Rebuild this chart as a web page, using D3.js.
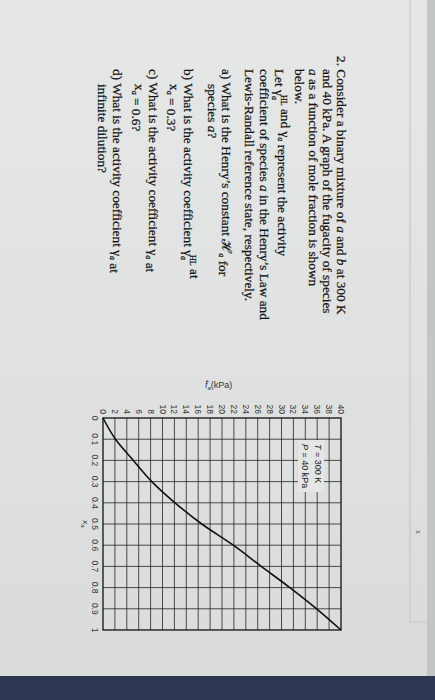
<!DOCTYPE html>
<html><head><meta charset="utf-8">
<script src="https://cdn.jsdelivr.net/npm/d3@7"></script>
<style>html,body{margin:0;padding:0;background:#e3e5e5;}svg{display:block;}</style>
</head><body>
<svg id="c" width="435" height="700"></svg>
<script>
// data
const moleFraction = [0, 0.1, 0.2, 0.3, 0.4, 0.5, 0.6, 0.7, 0.8, 0.9, 1.0];
const fugacity =     [0, 2.1, 5.1, 8.2, 12.1, 16.6, 21.9, 26.6, 31.4, 35.9, 40];
const fTicks = d3.range(0, 41, 2);
const xTicks = [0, 0.1, 0.2, 0.3, 0.4, 0.5, 0.6, 0.7, 0.8, 0.9, 1];
const xTickLabels = ["0","0.1","0.2","0.3","0.4","0.5","0.6","0.7","0.8","0.9","1"];
const questionLines = [
  ["2.  Consider a binary mixture of ", {i:"a"}, " and ", {i:"b"}, " at 300 K"],
  ["and 40 kPa. A graph of the fugacity of species"],
  [{i:"a"}, " as a function of mole fraction is shown"],
  ["below."],
  ["Let γ", {sub:"a"}, {sup:"HL"}, " and γ", {sub:"a"}, " represent the activity"],
  ["coefficient of species ", {i:"a"}, " in the Henry’s Law and"],
  ["Lewis-Randall reference state, respectively."],
  ["a)  What is the Henry’s constant ℋ", {sub:"a"}, " for"],
  ["species ", {i:"a"}, "?"],
  ["b)  What is the activity coefficient γ", {sub:"a"}, {sup:"HL"}, " at"],
  ["x", {sub:"a"}, " = 0.3?"],
  ["c)  What is the activity coefficient γ", {sub:"a"}, " at"],
  ["x", {sub:"a"}, " = 0.6?"],
  ["d)  What is the activity coefficient γ", {sub:"a"}, " at"],
  ["infinite dilution?"]
];
const lineX =     [341, 327, 313, 299, 279, 264, 249, 226, 212, 188, 174, 153, 139, 117, 102];
const lineStart = [ 56,  69,  69,  69,  69,  69,  69,  69,  84,  69,  84,  69,  84,  69,  84];

const svg = d3.select("#c");
// paper
const grad = svg.append("defs").append("linearGradient").attr("id","pg").attr("x1",0).attr("y1",0).attr("x2",0).attr("y2",1);
grad.append("stop").attr("offset","0").attr("stop-color","#e6e8e8");
grad.append("stop").attr("offset","1").attr("stop-color","#dadcdc");
svg.append("rect").attr("x",0).attr("y",0).attr("width",435).attr("height",700).attr("fill","#2f3652");
svg.append("rect").attr("x",0).attr("y",0).attr("width",427).attr("height",676).attr("fill","url(#pg)");
svg.append("rect").attr("x",427).attr("y",0).attr("width",8).attr("height",676).attr("fill","#c3c6c7");
svg.append("path").attr("d","M410,0 V622 H427").attr("fill","none").attr("stroke","#c6c9c9").attr("stroke-width",1.2);
svg.append("text").attr("x",416).attr("y",530).attr("font-family","Liberation Serif").attr("font-size",8).attr("fill","#555")
  .attr("transform","rotate(90,416,530)").text("x");

// question text (page is rotated 90° clockwise)
questionLines.forEach((parts, i) => {
  const x = lineX[i] - 4, y = lineStart[i];
  const t = svg.append("text").attr("x", x).attr("y", y)
    .attr("transform", `rotate(90,${x},${y})`)
    .attr("font-family", "Liberation Serif").attr("font-size", 13.3).attr("fill", "#151515")
    .attr("stroke", "#151515").attr("stroke-width", 0.25);
  parts.forEach(p => {
    if (typeof p === "string") t.append("tspan").text(p);
    else if (p.i) t.append("tspan").attr("font-style","italic").text(p.i);
    else if (p.sub) { t.append("tspan").attr("font-size",8).attr("font-style","italic").attr("dy",3).text(p.sub);
                      t.append("tspan").attr("dy",-3).text(""); }
    else if (p.sup) { t.append("tspan").attr("font-size",8).attr("dy",-9).attr("dx",-5).text(p.sup);
                      t.append("tspan").attr("dy",9).text(""); }
  });
});

// chart: fugacity runs left→right, mole fraction runs top→bottom
const fScale = d3.scaleLinear().domain([0, 40]).range([103, 341]);
const xScale = d3.scaleLinear().domain([0, 1]).range([418, 630]);
const g = svg.append("g");
g.append("rect").attr("x", fScale(0)).attr("y", xScale(0))
  .attr("width", fScale(40) - fScale(0)).attr("height", xScale(1) - xScale(0))
  .attr("fill", "none").attr("stroke", "#111").attr("stroke-width", 1.3);
g.selectAll(".vg").data(fTicks.slice(1, -1)).join("line")
  .attr("x1", d => fScale(d)).attr("x2", d => fScale(d))
  .attr("y1", xScale(0)).attr("y2", xScale(1)).attr("stroke", "#222").attr("stroke-width", 0.8);
g.selectAll(".hg").data(xTicks.slice(1, -1)).join("line")
  .attr("y1", d => xScale(d)).attr("y2", d => xScale(d))
  .attr("x1", fScale(0)).attr("x2", fScale(40)).attr("stroke", "#222").attr("stroke-width", 0.8);

// note box
g.append("rect").attr("x", 298).attr("y", 440).attr("width", 26).attr("height", 52).attr("fill", "#e4e6e6");
[["T = 300 K", 318], ["P = 40 kPa", 305]].forEach(([s, x]) => {
  g.append("text").attr("x", x - 3).attr("y", 444).attr("transform", `rotate(90,${x - 3},444)`)
    .attr("font-family", "Liberation Sans").attr("font-size", 9).attr("fill", "#222")
    .call(t => { t.append("tspan").attr("font-style","italic").text(s[0]); t.append("tspan").text(s.slice(1)); });
});

// curve
const pts = moleFraction.map((m, i) => [fScale(fugacity[i]), xScale(m)]);
g.append("path").attr("d", d3.line().curve(d3.curveMonotoneY)(pts))
  .attr("fill", "none").attr("stroke", "#111").attr("stroke-width", 1.6);

// fugacity tick labels (above box)
g.selectAll(".fl").data(fTicks).join("text")
  .attr("transform", d => `translate(${fScale(d)},414) rotate(90)`)
  .attr("text-anchor", "end").attr("dominant-baseline", "central")
  .attr("font-family", "Liberation Sans").attr("font-size", 8.5).attr("fill", "#333")
  .text(d => d);
// mole fraction tick labels (left of box)
g.selectAll(".xl").data(xTicks).join("text")
  .attr("transform", d => `translate(95,${xScale(d)}) rotate(90)`)
  .attr("text-anchor", "middle").attr("dominant-baseline", "central")
  .attr("font-family", "Liberation Sans").attr("font-size", 8.5).attr("fill", "#333")
  .text((d, i) => xTickLabels[i]);
g.append("text").attr("transform", `translate(85,${xScale(0.5)}) rotate(90)`)
  .attr("text-anchor", "middle").attr("dominant-baseline", "central")
  .attr("font-family", "Liberation Sans").attr("font-size", 8).attr("font-style","italic").attr("fill", "#333")
  .text("x").append("tspan").attr("font-size", 6).attr("dy", 2).text("a");
// axis title
g.append("text").attr("x", 205).attr("y", 388)
  .attr("font-family", "Liberation Sans").attr("font-size", 9).attr("fill", "#333")
  .call(t => { t.append("tspan").attr("font-style","italic").text("f̂"); t.append("tspan").attr("font-size",6).attr("dy",2).attr("font-style","italic").text("a"); t.append("tspan").attr("dy",-2).text("(kPa)"); });
</script>
</body></html>
